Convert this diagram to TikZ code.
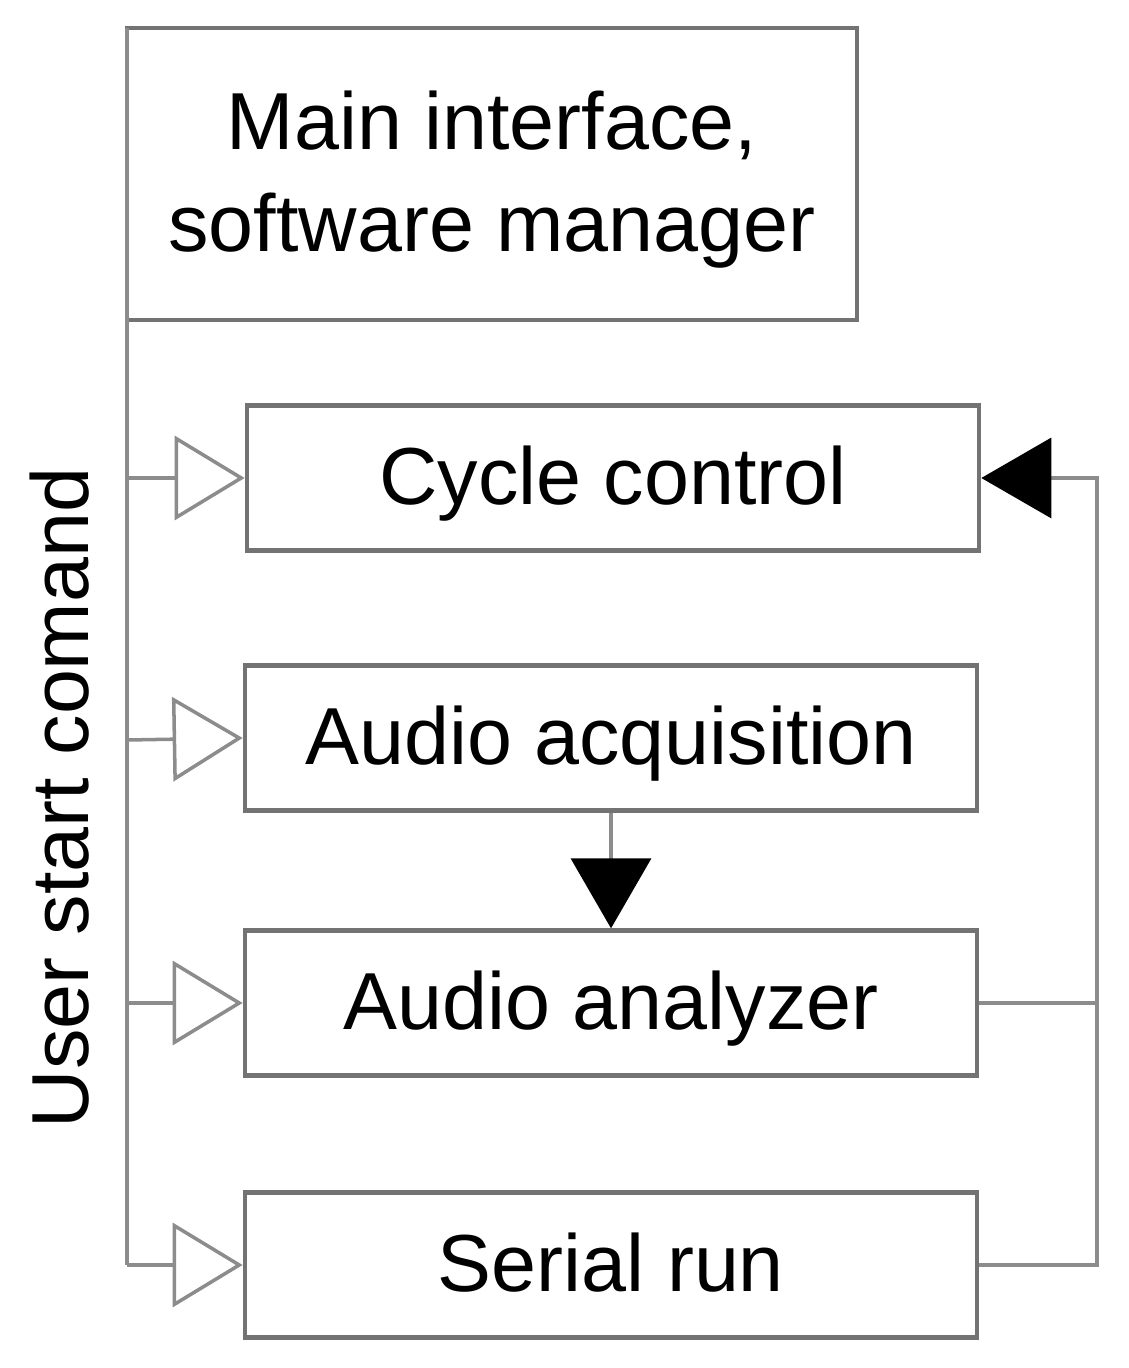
\documentclass[tikz,border=0pt]{standalone}
\usepackage{fontspec}
\setmainfont{Liberation Sans}
\usetikzlibrary{arrows.meta}
\begin{document}
\begin{tikzpicture}[x=0.01cm,y=-0.01cm,
  box/.style={draw=black!55, line width=1.2pt, minimum width=7.32cm, minimum height=1.45cm, inner sep=0pt, text depth=0.05cm, font=\fontsize{23}{29}\selectfont},
  wire/.style={draw=black!45, line width=1pt},
  openArrow/.style={wire, -{Triangle[open, length=0.7cm, width=0.84cm]}},
  fullArrow/.style={wire, -{Triangle[length=0.7cm, width=0.8cm, fill=black, color=black]}}
]
\useasboundingbox (0,0) rectangle (1128,1368);
\node[box, minimum width=7.3cm, minimum height=2.92cm, align=center] (main) at (492,174) {Main interface,\\software manager};
\node[box] (cyc) at (613,478) {Cycle control};
\node[box] (acq) at (611,738) {Audio acquisition};
\node[box] (ana) at (611,1003) {Audio analyzer};
\node[box] (ser) at (611,1265) {Serial run};
\coordinate (busTop) at (127,28);
\coordinate (busBot) at (127,1265);
\coordinate (b1) at (127,478);
\coordinate (b2) at (127,740);
\coordinate (b3) at (127,1003);
\coordinate (rTop) at (1097,478);
\coordinate (rMid) at (1097,1003);
\coordinate (rBot) at (1097,1265);
\draw[wire] (busTop) -- (busBot);
\draw[openArrow] (b1) -- (cyc.west);
\draw[openArrow] (b2) -- (acq.west);
\draw[openArrow] (b3) -- (ana.west);
\draw[openArrow] (busBot) -- (ser.west);
\draw[fullArrow] (acq.south) -- (ana.north);
\draw[wire] (ana.east) -- (rMid);
\draw[fullArrow] (ser.east) -- (rBot) -- (rTop) -- (cyc.east);
\node[rotate=90, font=\fontsize{23}{29}\selectfont] (lbl) at (60,798) {User start comand};
\end{tikzpicture}
\end{document}
